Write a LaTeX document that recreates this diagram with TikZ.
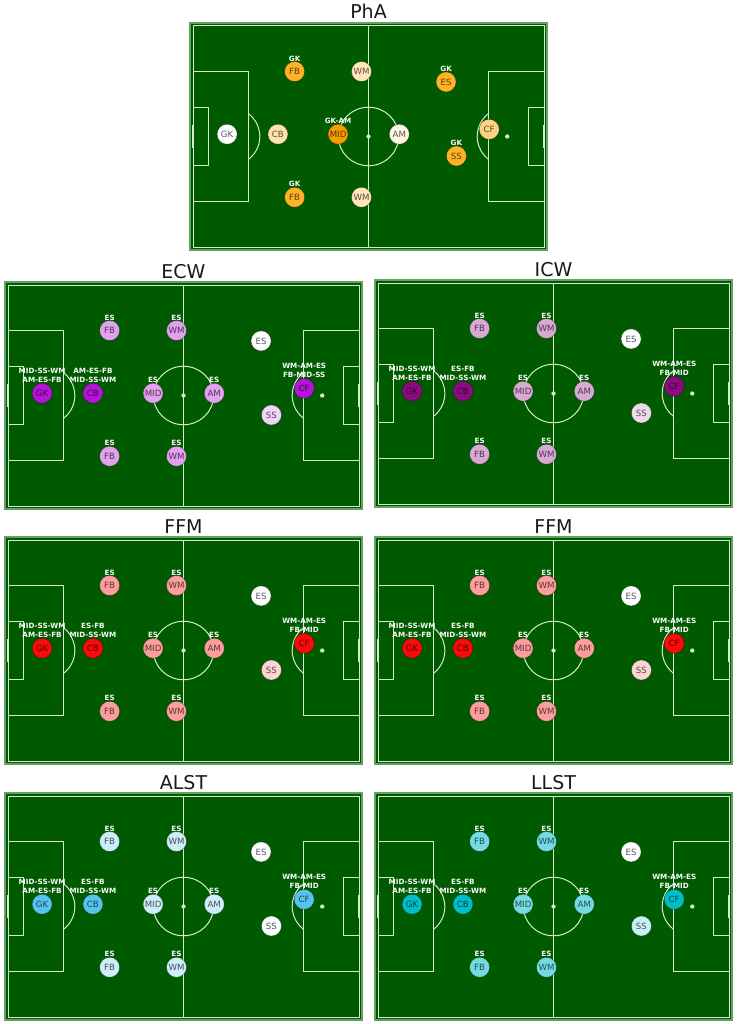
\documentclass[tikz,border=0pt]{standalone}
\usepackage{fontspec}
\setmainfont{DejaVu Sans}
\definecolor{grass}{RGB}{0,90,0}
\definecolor{chalk}{RGB}{215,235,205}
\definecolor{rim}{RGB}{100,160,100}
\definecolor{phaorange}{RGB}{255,165,0}
\definecolor{phamid}{RGB}{246,156,0}
\definecolor{ecwcol}{RGB}{180,20,215}
\definecolor{icwcol}{RGB}{140,10,130}
\definecolor{ffmcol}{RGB}{250,10,10}
\definecolor{alstcol}{RGB}{85,195,235}
\definecolor{llstcol}{RGB}{0,190,200}
\tikzset{
  pline/.style={draw=chalk,line width=1pt},
  player/.style={circle,minimum size=20pt,inner sep=0pt,draw=black,draw opacity=0.35,
    line width=0.6pt,text=black,text opacity=0.65,font=\fontsize{8.6}{9}\selectfont,
    label distance=3.2pt},
  tag/.style={font=\bfseries\fontsize{7.2}{9}\selectfont,text=white!85!chalk,
    align=center,inner sep=0pt,text depth=0pt},
  paneltitle/.style={font=\fontsize{19}{22}\selectfont,anchor=base,text=black!90},
}
% name, text, x, y, fill, tag
\newcommand{\player}[6]{\node[player,fill=#5,label={[tag]90:{#6}}] (#1) at (#3,#4) {#2};}
% prefix, strong, light, pale, CB tag, CF tag
\newcommand{\squad}[6]{%
\player{#1-GK}{GK}{10.2}{34.7}{#2}{MID-SS-WM\\AM-ES-FB}
\player{#1-CB}{CB}{25.4}{34.7}{#2}{#5\\MID-SS-WM}
\player{#1-FB1}{FB}{30.4}{54.0}{#3}{ES}
\player{#1-FB2}{FB}{30.4}{15.3}{#3}{ES}
\player{#1-WM1}{WM}{50.4}{54.0}{#3}{ES}
\player{#1-WM2}{WM}{50.4}{15.3}{#3}{ES}
\player{#1-MID}{MID}{43.4}{34.7}{#3}{ES}
\player{#1-AM}{AM}{61.7}{34.7}{#3}{ES}
\player{#1-ES}{ES}{75.7}{50.8}{white}{}
\player{#1-SS}{SS}{78.8}{28.0}{#4}{}
\player{#1-CF}{CF}{88.6}{36.2}{#2}{WM-AM-ES\\#6}}
% x0, y0, title, players
\newcommand{\pitch}[4]{%
\begin{scope}[shift={(#1,#2)}]
\fill[grass] (0,0) rectangle (357,227);
\draw[rim,line width=1.6pt] (0,0) rectangle (357,227);
\node[paneltitle] at (178.5,-4) {#3};
\begin{scope}[shift={(3,224)},xscale=3.343,yscale=-3.25]
\draw[pline] (0,0) rectangle (105,68);
\draw[pline] (52.5,0) -- (52.5,68);
\draw[pline] (52.5,34) circle (9);
\draw[pline] (0,14) rectangle (16.6,54);
\draw[pline] (105,14) rectangle (88.4,54);
\draw[pline] (0,24.95) rectangle (4.5,43.05);
\draw[pline] (105,24.95) rectangle (100.5,43.05);
\draw[pline] (16.6,26.96) arc (-51.5:51.5:9);
\draw[pline] (88.4,41.04) arc (128.5:231.5:9);
\draw[chalk,line width=1.8pt] (0,30.34) -- (0,37.66);
\draw[chalk,line width=1.8pt] (105,30.34) -- (105,37.66);
\fill[chalk] (52.5,34) circle (0.65);
\fill[chalk] (11,34) circle (0.65);
\fill[chalk] (94,34) circle (0.65);
#4
\end{scope}
\end{scope}}
\begin{document}
\begin{tikzpicture}[x=1pt,y=-1pt]
\fill[white] (0,0) rectangle (737,1024);
\useasboundingbox (0,0) rectangle (737,1024);
\pitch{190}{23}{PhA}{
\player{pha-GK}{GK}{10.2}{34.7}{white}{}
\player{pha-CB}{CB}{25.4}{34.7}{phaorange!33}{}
\player{pha-FB1}{FB}{30.4}{54.0}{phaorange!85}{GK}
\player{pha-FB2}{FB}{30.4}{15.3}{phaorange!85}{GK}
\player{pha-WM1}{WM}{50.4}{54.0}{phaorange!28}{}
\player{pha-WM2}{WM}{50.4}{15.3}{phaorange!28}{}
\player{pha-MID}{MID}{43.4}{34.7}{phamid}{GK-AM}
\player{pha-AM}{AM}{61.7}{34.7}{phaorange!10}{}
\player{pha-ES}{ES}{75.7}{50.8}{phaorange!85}{GK}
\player{pha-SS}{SS}{78.8}{28.0}{phaorange!85}{GK}
\player{pha-CF}{CF}{88.6}{36.2}{phaorange!50}{}}
\pitch{5}{282}{ECW}{\squad{ecw}{ecwcol}{ecwcol!40}{ecwcol!18}{AM-ES-FB}{FB-MID-SS}}
\pitch{375}{280}{ICW}{\squad{icw}{icwcol}{icwcol!35}{icwcol!15}{ES-FB}{FB-MID}}
\pitch{5}{537}{FFM}{\squad{ffma}{ffmcol}{ffmcol!40}{ffmcol!18}{ES-FB}{FB-MID}}
\pitch{375}{537}{FFM}{\squad{ffmb}{ffmcol}{ffmcol!40}{ffmcol!18}{ES-FB}{FB-MID}}
\pitch{5}{793}{ALST}{\squad{alst}{alstcol}{alstcol!30}{alstcol!3}{ES-FB}{FB-MID}}
\pitch{375}{793}{LLST}{\squad{llst}{llstcol}{llstcol!55}{llstcol!22}{ES-FB}{FB-MID}}
\end{tikzpicture}
\end{document}
